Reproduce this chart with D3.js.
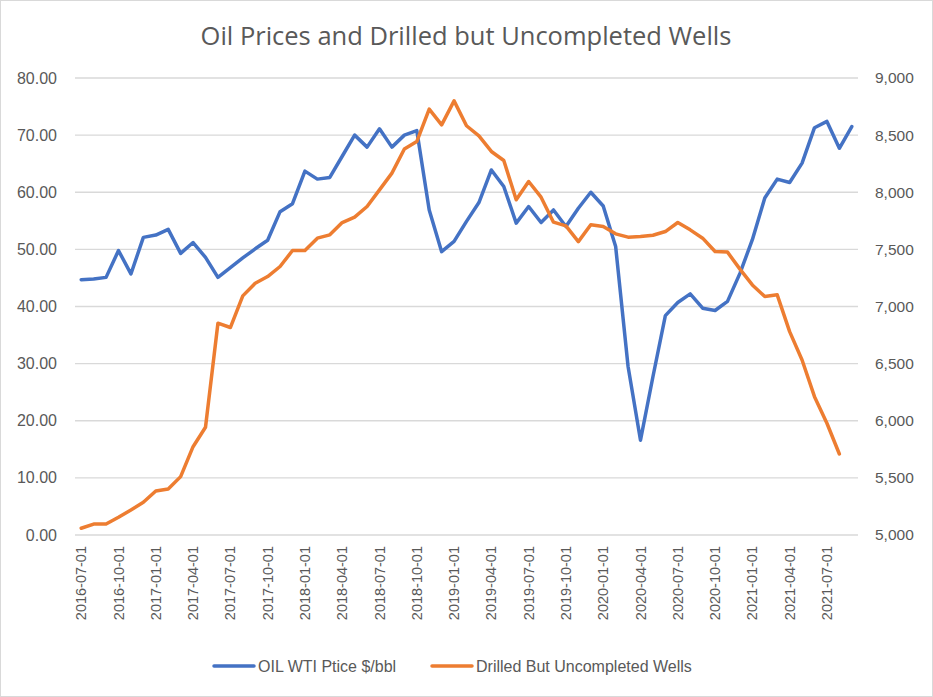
<!DOCTYPE html>
<html>
<head>
<meta charset="utf-8">
<script src="https://cdn.jsdelivr.net/npm/d3@7"></script>
<style>
  body { margin: 0; background: #fff; }
  text { font-family: "Liberation Sans", Arial, sans-serif; fill: #595959; }
</style>
</head>
<body>
<svg width="933" height="697"></svg>
<script>
// monthly dates, 2016-07 .. 2021-09
const months = [
  '2016-07-01','2016-08-01','2016-09-01','2016-10-01','2016-11-01','2016-12-01',
  '2017-01-01','2017-02-01','2017-03-01','2017-04-01','2017-05-01','2017-06-01',
  '2017-07-01','2017-08-01','2017-09-01','2017-10-01','2017-11-01','2017-12-01',
  '2018-01-01','2018-02-01','2018-03-01','2018-04-01','2018-05-01','2018-06-01',
  '2018-07-01','2018-08-01','2018-09-01','2018-10-01','2018-11-01','2018-12-01',
  '2019-01-01','2019-02-01','2019-03-01','2019-04-01','2019-05-01','2019-06-01',
  '2019-07-01','2019-08-01','2019-09-01','2019-10-01','2019-11-01','2019-12-01',
  '2020-01-01','2020-02-01','2020-03-01','2020-04-01','2020-05-01','2020-06-01',
  '2020-07-01','2020-08-01','2020-09-01','2020-10-01','2020-11-01','2020-12-01',
  '2021-01-01','2021-02-01','2021-03-01','2021-04-01','2021-05-01','2021-06-01',
  '2021-07-01','2021-08-01','2021-09-01'
];

// WTI price $/bbl (left axis)
const oilPrice = [
  44.7, 44.8, 45.1, 49.8, 45.7, 52.1, 52.5, 53.5, 49.3, 51.2, 48.6, 45.1,
  46.8, 48.5, 50.1, 51.6, 56.6, 58.0, 63.7, 62.3, 62.6, 66.3, 70.0, 67.9,
  71.1, 67.9, 70.0, 70.8, 56.9, 49.6, 51.4, 54.9, 58.2, 63.9, 61.0, 54.6,
  57.5, 54.7, 56.9, 54.0, 57.2, 60.0, 57.6, 50.5, 29.5, 16.6, 27.7, 38.4,
  40.7, 42.2, 39.7, 39.3, 40.9, 45.8, 51.7, 59.0, 62.3, 61.7, 65.1, 71.3,
  72.4, 67.7, 71.5
];

// drilled but uncompleted wells (right axis), no value for the last month
const ducWells = [
  5059, 5096, 5096, 5155, 5219, 5286, 5385, 5403, 5511, 5773, 5943, 6854,
  6816, 7093, 7204, 7262, 7350, 7490, 7490, 7598, 7627, 7735, 7782, 7875,
  8021, 8167, 8378, 8444, 8728, 8590, 8800, 8582, 8494, 8357, 8278, 7934,
  8094, 7957, 7738, 7706, 7568, 7715, 7700, 7636, 7607, 7612, 7624, 7656,
  7735, 7671, 7598, 7481, 7476, 7327, 7189, 7087, 7102, 6780, 6532, 6211,
  5978, 5709, null
];

const leftTicks = [0, 10, 20, 30, 40, 50, 60, 70, 80];
const rightTicks = [5000, 5500, 6000, 6500, 7000, 7500, 8000, 8500, 9000];

const svg = d3.select('svg');
const plotL = 75, plotR = 858, plotT = 78, plotB = 535;

// outer chart border
svg.append('rect')
  .attr('x', 0.5).attr('y', 0.5)
  .attr('width', 932).attr('height', 696)
  .attr('fill', '#fff').attr('stroke', '#d9d9d9');

const x = d3.scaleBand().domain(months).range([plotL, plotR]);
const cx = d => x(d) + x.bandwidth() / 2;
const yL = d3.scaleLinear().domain([0, 80]).range([plotB, plotT]);
const yR = d3.scaleLinear().domain([5000, 9000]).range([plotB, plotT]);

// gridlines
svg.append('g').selectAll('line').data(leftTicks).enter().append('line')
  .attr('x1', plotL).attr('x2', plotR)
  .attr('y1', d => yL(d)).attr('y2', d => yL(d))
  .attr('stroke', '#d9d9d9').attr('stroke-width', 1.3);

// left axis labels
svg.append('g').selectAll('text').data(leftTicks).enter().append('text')
  .attr('x', 57).attr('y', d => yL(d))
  .attr('dy', '0.35em').attr('text-anchor', 'end')
  .style('font-size', '16px')
  .text(d3.format('.2f'));

// right axis labels
svg.append('g').selectAll('text').data(rightTicks).enter().append('text')
  .attr('x', 875).attr('y', d => yR(d))
  .attr('dy', '0.35em').attr('text-anchor', 'start')
  .style('font-size', '15.5px')
  .text(d3.format(','));

// x labels every quarter
svg.append('g').selectAll('text').data(months.filter((d, i) => i % 3 === 0)).enter().append('text')
  .attr('transform', d => `translate(${cx(d) + 5},546) rotate(-90)`)
  .attr('text-anchor', 'end')
  .style('font-size', '14.5px')
  .text(d => d);

// lines
const oilLine = d3.line().x((d, i) => cx(months[i])).y(d => yL(d));
const ducLine = d3.line().defined(d => d != null).x((d, i) => cx(months[i])).y(d => yR(d));

svg.append('path').datum(oilPrice)
  .attr('d', oilLine)
  .attr('fill', 'none').attr('stroke', '#4472c4')
  .attr('stroke-width', 3.5).attr('stroke-linejoin', 'round').attr('stroke-linecap', 'round');

svg.append('path').datum(ducWells)
  .attr('d', ducLine)
  .attr('fill', 'none').attr('stroke', '#ed7d31')
  .attr('stroke-width', 3.5).attr('stroke-linejoin', 'round').attr('stroke-linecap', 'round');

// title
svg.append('text')
  .attr('x', 466).attr('y', 45)
  .attr('text-anchor', 'middle')
  .style('font-family', '"Open Sans", sans-serif')
  .style('font-size', '25.5px')
  .text('Oil Prices and Drilled but Uncompleted Wells');

// legend
const legend = [
  { name: 'OIL WTI Ptice $/bbl', color: '#4472c4', x: 214 },
  { name: 'Drilled But Uncompleted Wells', color: '#ed7d31', x: 432 }
];
const lg = svg.append('g').selectAll('g').data(legend).enter().append('g')
  .attr('transform', d => `translate(${d.x},666)`);
lg.append('line')
  .attr('x1', 0).attr('x2', 40)
  .attr('stroke', d => d.color).attr('stroke-width', 3.5).attr('stroke-linecap', 'round');
lg.append('text')
  .attr('x', 44).attr('dy', '0.35em')
  .style('font-size', '16px')
  .text(d => d.name);
</script>
</body>
</html>
